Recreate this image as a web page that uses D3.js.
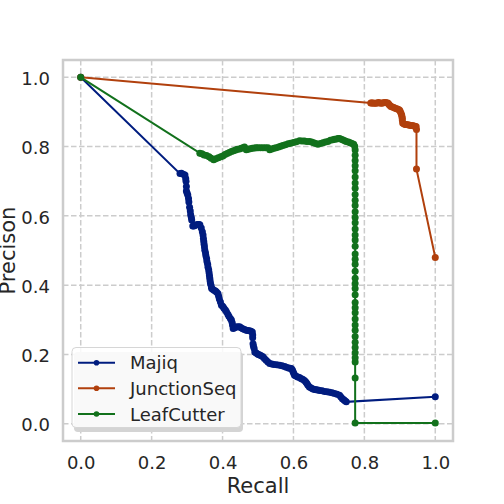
<!DOCTYPE html>
<html lang="en">
<head>
    <meta charset="UTF-8">
    <style>
        body { margin: 0; background: #fff; }
        svg { font-family: "DejaVu Sans", sans-serif; }
    </style>
    <script src="https://d3js.org/d3.v7.min.js"></script>
</head>
<body>
<svg id="chart" width="504" height="504" xmlns="http://www.w3.org/2000/svg"></svg>
<script>
    // values (recall, precision)
    const majiqRecall = [0, 0.280, 0.284, 0.289, 0.294, 0.296, 0.297, 0.298, 0.298, 0.300, 0.302, 0.304, 0.305, 0.307,
        0.309, 0.310, 0.312, 0.313, 0.316, 0.319, 0.322, 0.326, 0.330, 0.333, 0.336, 0.340, 0.343, 0.345, 0.346,
        0.347, 0.348, 0.349, 0.350, 0.352, 0.353, 0.355, 0.356, 0.358, 0.359, 0.361, 0.362, 0.363, 0.364, 0.365,
        0.366, 0.368, 0.369, 0.372, 0.376, 0.380, 0.383, 0.387, 0.389, 0.391, 0.394, 0.397, 0.401, 0.404, 0.408,
        0.411, 0.415, 0.418, 0.422, 0.425, 0.427, 0.428, 0.430, 0.434, 0.438, 0.443, 0.448, 0.452, 0.457, 0.462,
        0.467, 0.471, 0.476, 0.480, 0.484, 0.485, 0.485, 0.486, 0.487, 0.489, 0.491, 0.494, 0.498, 0.501, 0.505,
        0.509, 0.514, 0.518, 0.523, 0.528, 0.533, 0.539, 0.545, 0.553, 0.561, 0.568, 0.575, 0.580, 0.586, 0.590,
        0.594, 0.597, 0.599, 0.601, 0.603, 0.607, 0.612, 0.617, 0.622, 0.626, 0.631, 0.635, 0.638, 0.641, 0.645,
        0.650, 0.655, 0.660, 0.664, 0.669, 0.674, 0.681, 0.688, 0.695, 0.702, 0.709, 0.716, 0.723, 0.730, 0.734,
        0.738, 0.742, 0.745, 0.749, 1.0];
    const majiqPrecision = [1, 0.722, 0.723, 0.720, 0.718, 0.708, 0.700, 0.685, 0.672, 0.666, 0.660, 0.650, 0.640, 0.625,
        0.614, 0.603, 0.595, 0.588, 0.571, 0.571, 0.572, 0.574, 0.575, 0.575, 0.574, 0.565, 0.554, 0.545, 0.535,
        0.526, 0.518, 0.510, 0.501, 0.493, 0.485, 0.477, 0.468, 0.460, 0.452, 0.444, 0.436, 0.428, 0.420, 0.412,
        0.405, 0.398, 0.391, 0.388, 0.385, 0.383, 0.380, 0.376, 0.368, 0.360, 0.351, 0.342, 0.338, 0.333, 0.328,
        0.323, 0.316, 0.310, 0.304, 0.299, 0.292, 0.285, 0.275, 0.277, 0.279, 0.280, 0.280, 0.277, 0.274, 0.272,
        0.270, 0.269, 0.268, 0.267, 0.265, 0.256, 0.248, 0.231, 0.224, 0.218, 0.207, 0.205, 0.202, 0.200, 0.198,
        0.196, 0.193, 0.188, 0.183, 0.178, 0.174, 0.172, 0.171, 0.170, 0.169, 0.167, 0.165, 0.163, 0.161, 0.160,
        0.159, 0.155, 0.150, 0.145, 0.140, 0.138, 0.135, 0.133, 0.130, 0.128, 0.125, 0.120, 0.116, 0.111, 0.106,
        0.103, 0.100, 0.099, 0.098, 0.097, 0.096, 0.095, 0.093, 0.092, 0.091, 0.089, 0.087, 0.085, 0.082, 0.077,
        0.072, 0.069, 0.066, 0.063, 0.078];

    const junctionRecall = [0, 0.818, 0.821, 0.824, 0.828, 0.832, 0.836, 0.840, 0.844, 0.848, 0.852, 0.856, 0.861,
        0.866, 0.868, 0.870, 0.873, 0.875, 0.879, 0.883, 0.887, 0.891, 0.895, 0.899, 0.901, 0.903, 0.905, 0.906,
        0.907, 0.907, 0.908, 0.911, 0.915, 0.918, 0.922, 0.926, 0.930, 0.934, 0.938, 0.942, 0.946, 0.947, 0.947, 1.0];
    const junctionPrecision = [1, 0.926, 0.926, 0.926, 0.925, 0.925, 0.926, 0.927, 0.926, 0.925, 0.926, 0.927, 0.927,
        0.926, 0.924, 0.921, 0.918, 0.916, 0.914, 0.913, 0.911, 0.909, 0.908, 0.906, 0.902, 0.897, 0.892, 0.887,
        0.882, 0.877, 0.868, 0.866, 0.864, 0.864, 0.863, 0.862, 0.861, 0.861, 0.860, 0.859, 0.858, 0.849, 0.735, 0.480];

    const leafRecall = [0, 0.336, 0.342, 0.348, 0.355, 0.362, 0.368, 0.375, 0.381, 0.388, 0.395, 0.401, 0.407, 0.413,
        0.419, 0.425, 0.431, 0.437, 0.442, 0.448, 0.453, 0.458, 0.462, 0.467, 0.472, 0.478, 0.484, 0.490, 0.495,
        0.500, 0.507, 0.514, 0.521, 0.528, 0.533, 0.539, 0.545, 0.551, 0.558, 0.564, 0.570, 0.577, 0.585, 0.592,
        0.600, 0.608, 0.617, 0.624, 0.631, 0.638, 0.645, 0.651, 0.657, 0.663, 0.669, 0.676, 0.683, 0.690, 0.697,
        0.704, 0.711, 0.716, 0.722, 0.726, 0.730, 0.735, 0.740, 0.745, 0.749, 0.755, 0.760, 0.765, 0.770, 0.773,
        0.774, 0.774, 0.774, 0.774, 0.774, 0.774, 0.774, 0.774, 0.774, 0.774, 0.774, 0.774, 0.774, 0.774, 0.774,
        0.774, 0.774, 0.774, 0.774, 0.774, 0.774, 0.774, 0.774, 0.774, 0.774, 0.774, 0.774, 0.774, 0.774, 0.774,
        0.774, 0.774, 0.774, 0.774, 0.774, 0.774, 0.774, 0.774, 0.774, 0.774, 1.0];
    const leafPrecision = [1, 0.781, 0.779, 0.776, 0.774, 0.771, 0.766, 0.762, 0.765, 0.768, 0.771, 0.773, 0.777, 0.780,
        0.783, 0.786, 0.788, 0.790, 0.792, 0.793, 0.795, 0.797, 0.799, 0.791, 0.792, 0.794, 0.795, 0.796, 0.797,
        0.797, 0.797, 0.797, 0.797, 0.797, 0.791, 0.793, 0.795, 0.797, 0.799, 0.801, 0.803, 0.805, 0.808, 0.810,
        0.812, 0.814, 0.817, 0.816, 0.816, 0.815, 0.815, 0.813, 0.811, 0.809, 0.807, 0.809, 0.811, 0.813, 0.815,
        0.818, 0.820, 0.821, 0.822, 0.823, 0.823, 0.821, 0.819, 0.817, 0.815, 0.813, 0.811, 0.809, 0.807, 0.800,
        0.790, 0.775, 0.760, 0.745, 0.730, 0.712, 0.695, 0.680, 0.662, 0.645, 0.630, 0.612, 0.595, 0.580, 0.562,
        0.545, 0.530, 0.512, 0.490, 0.475, 0.460, 0.440, 0.420, 0.405, 0.390, 0.372, 0.350, 0.335, 0.320, 0.302,
        0.285, 0.270, 0.252, 0.235, 0.220, 0.205, 0.190, 0.178, 0.132, 0.002, 0.002];

    const seriesNames = ["Majiq", "JunctionSeq", "LeafCutter"];
    const seriesColors = ["#001c7f", "#b1400d", "#12711c"];
    const tickValues = [0, 0.2, 0.4, 0.6, 0.8, 1.0];

    const series = [
        { name: seriesNames[0], color: seriesColors[0], pts: d3.zip(majiqRecall, majiqPrecision) },
        { name: seriesNames[1], color: seriesColors[1], pts: d3.zip(junctionRecall, junctionPrecision) },
        { name: seriesNames[2], color: seriesColors[2], pts: d3.zip(leafRecall, leafPrecision) }
    ];

    const svg = d3.select("#chart");
    const plotLeft = 63, plotRight = 453, plotTop = 60, plotBottom = 441;
    const textColor = "#262626";

    const x = d3.scaleLinear().domain([-0.05, 1.05]).range([plotLeft, plotRight]);
    const y = d3.scaleLinear().domain([-0.05, 1.05]).range([plotBottom, plotTop]);

    // grid
    const grid = svg.append("g")
        .attr("stroke", "#cccccc")
        .attr("stroke-width", 1.5)
        .attr("stroke-dasharray", "5.5,2.5");
    grid.selectAll("line.gx").data(tickValues).enter().append("line")
        .attr("x1", d => x(d)).attr("x2", d => x(d))
        .attr("y1", plotTop).attr("y2", plotBottom);
    grid.selectAll("line.gy").data(tickValues).enter().append("line")
        .attr("y1", d => y(d)).attr("y2", d => y(d))
        .attr("x1", plotLeft).attr("x2", plotRight);

    // axes
    const xAxis = svg.append("g")
        .attr("transform", `translate(0,${plotBottom})`)
        .call(d3.axisBottom(x).tickValues(tickValues).tickSize(0).tickPadding(15.5).tickFormat(d3.format(".1f")));
    const yAxis = svg.append("g")
        .attr("transform", `translate(${plotLeft},0)`)
        .call(d3.axisLeft(y).tickValues(tickValues).tickSize(0).tickPadding(13).tickFormat(d3.format(".1f")));
    [xAxis, yAxis].forEach(a => {
        a.select(".domain").remove();
        a.selectAll("text")
            .attr("font-family", "DejaVu Sans")
            .attr("font-size", "18px")
            .attr("fill", textColor);
    });
    yAxis.selectAll("text").attr("dy", "0.4em");

    // frame
    svg.append("rect")
        .attr("x", plotLeft).attr("y", plotTop)
        .attr("width", plotRight - plotLeft).attr("height", plotBottom - plotTop)
        .attr("fill", "none")
        .attr("stroke", "#cccccc")
        .attr("stroke-width", 2.5);

    // lines + markers
    const line = d3.line().x(d => x(d[0])).y(d => y(d[1]));
    series.forEach(s => {
        const g = svg.append("g");
        g.append("path")
            .datum(s.pts)
            .attr("d", line)
            .attr("fill", "none")
            .attr("stroke", s.color)
            .attr("stroke-width", 2);
        g.selectAll("circle").data(s.pts).enter().append("circle")
            .attr("cx", d => x(d[0]))
            .attr("cy", d => y(d[1]))
            .attr("r", 3.5)
            .attr("fill", s.color);
    });

    // axis labels
    svg.append("text")
        .attr("x", (plotLeft + plotRight) / 2).attr("y", 493)
        .attr("text-anchor", "middle")
        .attr("font-size", "21px")
        .attr("fill", textColor)
        .text("Recall");
    svg.append("text")
        .attr("transform", `translate(15,${(plotTop + plotBottom) / 2}) rotate(-90)`)
        .attr("text-anchor", "middle")
        .attr("font-size", "21px")
        .attr("fill", textColor)
        .text("Precison");

    // legend
    const lg = svg.append("g");
    lg.append("rect")
        .attr("x", 74).attr("y", 352).attr("width", 169).attr("height", 80)
        .attr("rx", 4).attr("fill", "#d4d4d4");
    lg.append("rect")
        .attr("x", 72).attr("y", 347.5).attr("width", 169).attr("height", 80)
        .attr("rx", 4)
        .attr("fill", "rgba(255,255,255,0.85)")
        .attr("stroke", "#d6d6d6")
        .attr("stroke-width", 1);
    const rows = [362.7, 388.3, 414];
    series.forEach((s, i) => {
        lg.append("line")
            .attr("x1", 78).attr("x2", 115)
            .attr("y1", rows[i]).attr("y2", rows[i])
            .attr("stroke", s.color).attr("stroke-width", 2);
        lg.append("circle")
            .attr("cx", 96.5).attr("cy", rows[i]).attr("r", 2.8)
            .attr("fill", s.color);
        lg.append("text")
            .attr("x", 130).attr("y", rows[i] + 6.5)
            .attr("font-size", "18px")
            .attr("fill", textColor)
            .text(s.name);
    });
</script>
</body>
</html>
